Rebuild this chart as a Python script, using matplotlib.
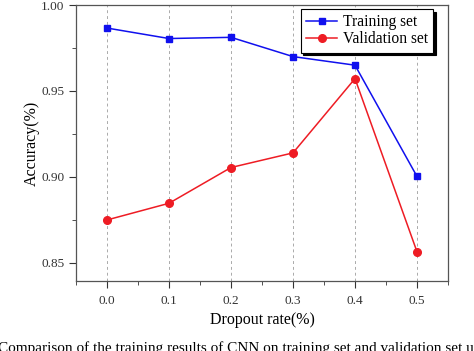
import matplotlib
matplotlib.use("Agg")
import matplotlib.pyplot as plt
from matplotlib.ticker import MultipleLocator

dropout = [0.0, 0.1, 0.2, 0.3, 0.4, 0.5]
training = [0.9866, 0.9805, 0.9812, 0.9700, 0.9650, 0.9003]
validation = [0.8750, 0.8847, 0.9055, 0.9140, 0.9572, 0.8565]
xticks = [0.0, 0.1, 0.2, 0.3, 0.4, 0.5]
yticks = [0.85, 0.90, 0.95, 1.00]

plt.rcParams['font.family'] = ['Liberation Serif', 'DejaVu Serif']

fig = plt.figure(figsize=(4.74, 3.51), dpi=100)
ax = fig.add_axes([76/474, 1-281/351, (448-76)/474, (281-5)/351])

ax.plot(dropout, training, color='#1010ee', marker='s', markersize=5, lw=1.1, label='Training set')
ax.plot(dropout, validation, color='#ee1c24', marker='o', markersize=5.5, lw=1.1, label='Validation set')

ax.set_xlim(-0.05, 0.55)
ax.set_ylim(0.8395, 1.0)
ax.set_xticks(xticks)
ax.set_xticklabels([f"{v:.1f}" for v in xticks])
ax.set_yticks(yticks)
ax.set_yticklabels([f"{v:.2f}" for v in yticks])
ax.xaxis.set_minor_locator(MultipleLocator(0.05))
ax.yaxis.set_minor_locator(MultipleLocator(0.025))
ax.tick_params(which='both', direction='out', labelsize=9.5, colors='#333333')
ax.tick_params(which='major', length=5)
ax.tick_params(which='minor', length=3)
ax.tick_params(axis='x', pad=5)
ax.grid(axis='x', which='major', ls=(0, (3, 3)), color='#aaaaaa', lw=0.7)
for s in ax.spines.values():
    s.set_color('#555555')
    s.set_linewidth(0.9)

ax.set_xlabel('Dropout rate(%)', fontsize=11.5, labelpad=4)
ax.set_ylabel('Accuracy(%)', fontsize=11.5, labelpad=1)

leg = ax.legend(loc='upper right', bbox_to_anchor=(0.96, 0.9855), fontsize=11.2,
                frameon=True, fancybox=False, shadow={'color': 'black', 'alpha': 1},
                handlelength=2.0, borderpad=0.35, labelspacing=0.05, handletextpad=0.35,
                borderaxespad=0.0)
leg.get_frame().set_edgecolor('black')
leg.get_frame().set_linewidth(0.8)

fig.text(-0.005, -0.012, 'Comparison of the training results of CNN on training set and validation set under',
         fontsize=11, ha='left', va='bottom')

fig.savefig('out.png', dpi=100)
